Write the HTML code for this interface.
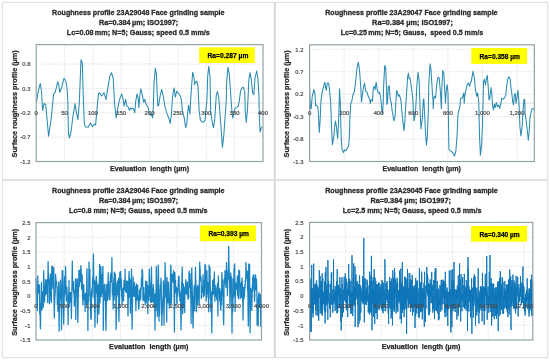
<!DOCTYPE html><html><head><meta charset="utf-8"><title>Roughness profiles</title>
<style>html,body{margin:0;padding:0;background:#fff;overflow:hidden}svg{display:block}text{font-family:"Liberation Sans", sans-serif;white-space:pre}</style></head><body>
<svg width="550" height="360" viewBox="0 0 550 360">
<rect width="550" height="360" fill="#fff"/>
<rect x="2.4" y="2.5" width="545.4" height="355" fill="none" stroke="#e2e2e2" stroke-width="1.2"/>
<line x1="274.8" y1="2" x2="274.8" y2="358" stroke="#d8d8d8" stroke-width="2"/>
<line x1="2" y1="179.9" x2="548" y2="179.9" stroke="#dcdcdc" stroke-width="1.8"/>
<path d="M36.2 137.1H263.0M36.2 112.8H263.0M36.2 88.4H263.0M36.2 64.1H263.0M64.6 44.6V161.5M92.9 44.6V161.5M121.2 44.6V161.5M149.6 44.6V161.5M177.9 44.6V161.5M206.3 44.6V161.5M234.6 44.6V161.5" stroke="#d9d9d9" stroke-width="0.8" stroke-dasharray="1.5 1.5" fill="none"/>
<line x1="36.2" y1="103.0" x2="263.0" y2="103.0" stroke="#d4d4d4" stroke-width="0.8"/>
<polyline points="36.2,102.0 37.0,99.0 38.2,91.3 40.3,83.5 41.5,91.3 42.6,110.5 44.0,103.6 45.7,104.4 48.6,136.3 51.2,118.2 52.9,101.0 53.7,93.8 55.3,92.2 57.7,81.7 58.7,84.7 59.8,92.2 61.5,88.0 64.0,78.3 65.7,80.5 67.0,88.0 67.8,101.0 68.4,132.0 69.3,138.0 71.0,132.0 72.7,118.2 75.0,103.6 76.2,111.3 77.9,119.6 79.3,103.0 81.0,59.7 82.3,63.0 83.5,103.0 84.3,123.4 85.3,126.8 88.2,127.2 90.5,123.0 92.5,126.8 94.2,124.2 95.6,125.0 97.7,101.0 98.7,92.7 100.3,93.8 101.5,96.0 104.0,92.7 106.0,99.7 107.3,91.3 109.8,76.3 111.5,72.7 113.2,78.0 114.5,103.0 116.1,117.8 117.8,107.8 119.4,100.0 121.7,93.9 123.3,100.0 124.1,106.1 125.6,99.4 126.7,105.6 128.3,107.2 129.4,110.6 130.6,107.8 131.7,108.9 132.8,108.3 133.9,109.4 134.8,112.8 135.6,102.2 137.0,93.9 138.1,97.8 138.9,107.8 139.7,96.7 140.8,88.9 142.2,94.4 143.7,102.2 144.8,99.4 146.1,103.9 147.8,106.7 149.4,113.3 150.6,115.6 151.7,114.4 152.6,117.8 153.3,107.8 153.9,85.6 155.3,68.3 156.3,73.0 157.8,106.1 158.6,105.6 160.0,96.7 161.7,89.4 163.3,96.7 165.0,106.7 167.1,113.9 168.8,118.2 170.2,123.4 171.4,114.8 172.2,101.0 173.3,91.3 174.2,88.0 175.3,97.2 176.7,91.3 177.8,92.2 179.5,94.7 180.7,96.7 181.7,103.0 182.2,109.6 183.4,114.8 184.3,118.2 185.7,127.7 186.9,123.4 187.7,112.2 188.6,105.3 189.9,114.0 190.6,101.0 191.7,84.7 192.7,72.2 193.8,76.3 194.7,84.7 195.5,82.2 196.7,81.0 198.0,86.3 199.2,111.3 200.4,119.9 201.8,122.0 203.8,122.0 205.2,119.9 206.1,107.9 206.9,101.0 207.7,76.3 208.8,66.3 210.0,76.3 210.7,111.3 212.1,121.7 213.5,127.7 214.7,119.9 215.5,107.9 216.3,94.7 217.5,91.3 218.8,98.0 219.8,111.3 221.0,126.8 222.4,147.5 223.8,135.4 225.0,118.2 226.2,101.0 226.7,81.3 228.0,67.2 229.3,74.7 230.5,91.3 231.9,111.3 232.8,118.2 234.1,111.3 235.3,107.9 237.1,107.0 238.3,106.2 239.3,101.0 240.5,91.3 242.2,87.7 243.3,87.2 244.7,91.3 245.3,111.3 246.2,122.5 247.4,111.3 248.2,95.0 248.8,80.0 250.0,72.7 251.3,79.7 252.7,93.0 253.8,94.7 255.0,78.0 256.7,71.0 258.0,79.7 258.8,93.0 259.4,118.0 260.1,132.0 261.0,128.5 262.0,127.0 263.0,127.0" fill="none" stroke="#2a8bb2" stroke-width="1.05" stroke-linejoin="round"/>
<rect x="36.2" y="44.6" width="226.8" height="116.9" fill="none" stroke="#93a3a8" stroke-width="1.2"/>
<text x="30.4" y="163.7" font-size="6.2" fill="#4a4a4a" stroke="#4a4a4a" stroke-width="0.2" text-anchor="end" textLength="10.06" lengthAdjust="spacingAndGlyphs">-1.2</text>
<text x="30.4" y="139.3" font-size="6.2" fill="#4a4a4a" stroke="#4a4a4a" stroke-width="0.2" text-anchor="end" textLength="10.06" lengthAdjust="spacingAndGlyphs">-0.7</text>
<text x="30.4" y="115.0" font-size="6.2" fill="#4a4a4a" stroke="#4a4a4a" stroke-width="0.2" text-anchor="end" textLength="10.06" lengthAdjust="spacingAndGlyphs">-0.2</text>
<text x="30.4" y="90.6" font-size="6.2" fill="#4a4a4a" stroke="#4a4a4a" stroke-width="0.2" text-anchor="end" textLength="8.10" lengthAdjust="spacingAndGlyphs">0.3</text>
<text x="30.4" y="66.3" font-size="6.2" fill="#4a4a4a" stroke="#4a4a4a" stroke-width="0.2" text-anchor="end" textLength="8.10" lengthAdjust="spacingAndGlyphs">0.8</text>
<text x="36.2" y="114.6" font-size="6.2" fill="#4a4a4a" stroke="#4a4a4a" stroke-width="0.2" text-anchor="middle" textLength="3.35" lengthAdjust="spacingAndGlyphs">0</text>
<text x="64.6" y="114.6" font-size="6.2" fill="#4a4a4a" stroke="#4a4a4a" stroke-width="0.2" text-anchor="middle" textLength="6.69" lengthAdjust="spacingAndGlyphs">50</text>
<text x="92.9" y="114.6" font-size="6.2" fill="#4a4a4a" stroke="#4a4a4a" stroke-width="0.2" text-anchor="middle" textLength="10.04" lengthAdjust="spacingAndGlyphs">100</text>
<text x="121.2" y="114.6" font-size="6.2" fill="#4a4a4a" stroke="#4a4a4a" stroke-width="0.2" text-anchor="middle" textLength="10.04" lengthAdjust="spacingAndGlyphs">150</text>
<text x="149.6" y="114.6" font-size="6.2" fill="#4a4a4a" stroke="#4a4a4a" stroke-width="0.2" text-anchor="middle" textLength="10.04" lengthAdjust="spacingAndGlyphs">200</text>
<text x="177.9" y="114.6" font-size="6.2" fill="#4a4a4a" stroke="#4a4a4a" stroke-width="0.2" text-anchor="middle" textLength="10.04" lengthAdjust="spacingAndGlyphs">250</text>
<text x="206.3" y="114.6" font-size="6.2" fill="#4a4a4a" stroke="#4a4a4a" stroke-width="0.2" text-anchor="middle" textLength="10.04" lengthAdjust="spacingAndGlyphs">300</text>
<text x="234.6" y="114.6" font-size="6.2" fill="#4a4a4a" stroke="#4a4a4a" stroke-width="0.2" text-anchor="middle" textLength="10.04" lengthAdjust="spacingAndGlyphs">350</text>
<text x="263.0" y="114.6" font-size="6.2" fill="#4a4a4a" stroke="#4a4a4a" stroke-width="0.2" text-anchor="middle" textLength="10.04" lengthAdjust="spacingAndGlyphs">400</text>
<text x="52.1" y="15.0" font-size="7.6" font-weight="bold" fill="#2a2a2a" stroke="#2a2a2a" stroke-width="0.3" textLength="172.4" lengthAdjust="spacingAndGlyphs">Roughness profile 23A29048 Face grinding sample</text>
<text x="99.0" y="25.0" font-size="7.6" font-weight="bold" fill="#2a2a2a" stroke="#2a2a2a" stroke-width="0.3" textLength="79.2" lengthAdjust="spacingAndGlyphs">Ra=0.384 µm; ISO1997;</text>
<text x="66.8" y="35.0" font-size="7.6" font-weight="bold" fill="#2a2a2a" stroke="#2a2a2a" stroke-width="0.3" textLength="143.0" lengthAdjust="spacingAndGlyphs">Lc=0.08 mm; N=5; Gauss; speed 0.5 mm/s</text>
<rect x="199.2" y="47.3" width="55.6" height="15.7" fill="#ffff00"/>
<text x="207.5" y="58.1" font-size="7.0" font-weight="bold" fill="#000" stroke="#000" stroke-width="0.25" textLength="40.9" lengthAdjust="spacingAndGlyphs">Ra=0.287 µm</text>
<text x="110.0" y="171.0" font-size="7.4" font-weight="bold" fill="#2a2a2a" stroke="#2a2a2a" stroke-width="0.25" textLength="79.1" lengthAdjust="spacingAndGlyphs" style="white-space:pre">Evaluation  length (µm)</text>
<text transform="translate(16.7 157.4) rotate(-90)" x="0" y="0" font-size="7.4" font-weight="bold" fill="#2a2a2a" stroke="#2a2a2a" stroke-width="0.25" textLength="107.0" lengthAdjust="spacingAndGlyphs">Surface roughness profile (µm)</text>
<path d="M309.6 139.1H534.3M309.6 116.6H534.3M309.6 94.2H534.3M309.6 71.7H534.3M309.6 49.3H534.3M344.2 44.8V161.5M378.7 44.8V161.5M413.3 44.8V161.5M447.9 44.8V161.5M482.4 44.8V161.5M517.0 44.8V161.5" stroke="#d9d9d9" stroke-width="0.8" stroke-dasharray="1.5 1.5" fill="none"/>
<line x1="309.6" y1="103.2" x2="534.3" y2="103.2" stroke="#d4d4d4" stroke-width="0.8"/>
<polyline points="309.6,88.5 310.0,100.0 310.4,107.8 311.1,108.9 312.2,96.7 313.9,89.4 315.0,94.4 315.6,105.6 316.6,105.3 317.9,107.0 318.4,114.0 319.3,132.4 320.1,121.0 321.0,100.0 322.3,91.3 323.7,86.3 324.8,82.2 326.2,90.5 327.3,83.0 328.7,83.0 329.8,93.0 330.7,103.0 331.5,126.3 332.4,144.7 333.6,138.5 334.7,126.3 335.5,121.0 336.4,126.3 337.6,138.5 338.5,124.5 339.2,103.0 339.5,88.8 340.3,103.0 341.1,135.0 342.0,149.0 343.4,152.5 344.7,149.9 345.9,150.8 347.3,148.2 348.7,145.5 349.4,135.0 349.9,117.5 350.8,103.5 351.7,101.8 352.8,95.5 354.5,91.3 356.2,76.3 357.3,66.3 358.3,62.2 359.5,69.7 360.7,86.3 361.5,102.0 362.3,96.0 363.3,88.0 364.5,83.0 365.7,91.3 367.0,92.2 368.3,96.3 369.7,99.7 370.3,103.5 370.8,100.5 371.7,99.7 372.5,101.3 373.3,88.0 374.2,86.3 375.0,89.7 376.2,82.2 377.2,89.7 378.3,93.0 379.5,92.2 380.8,98.0 381.8,110.0 382.5,114.0 383.2,103.0 383.7,84.7 384.7,65.5 385.7,68.0 386.7,93.0 386.9,104.4 387.5,103.0 388.3,86.3 389.2,86.0 390.3,99.7 391.3,103.0 392.1,110.5 393.9,121.0 395.1,115.8 395.8,103.0 396.7,90.5 397.5,93.0 398.3,96.3 399.2,94.7 400.3,98.0 400.9,100.0 402.1,114.0 403.9,130.6 404.9,121.0 405.6,107.0 406.3,98.0 407.5,78.0 408.3,73.0 409.2,78.8 410.0,78.0 411.3,86.3 412.5,96.3 413.0,103.0 414.0,121.0 415.4,114.0 416.2,100.0 416.7,88.0 418.0,72.2 419.2,81.3 419.8,100.0 420.4,117.0 421.0,128.9 422.4,117.5 423.3,100.0 423.8,98.8 424.8,117.5 425.6,135.0 426.5,145.2 427.4,135.0 428.3,110.5 428.8,84.7 430.0,63.8 431.0,69.7 432.2,89.7 433.0,99.7 433.2,108.8 433.8,98.0 434.7,96.3 435.5,98.0 436.7,84.7 438.0,77.2 439.2,78.0 440.5,93.0 441.4,108.8 441.8,90.0 442.7,70.5 443.8,73.0 444.7,89.7 445.5,103.0 446.3,89.7 447.2,84.7 448.0,93.0 448.4,117.5 448.9,149.0 450.1,150.8 451.9,151.7 453.1,153.4 454.5,156.0 455.9,150.8 457.1,135.0 458.0,114.0 458.9,110.5 460.1,105.3 460.5,98.8 462.2,98.0 463.8,93.0 464.2,103.5 464.7,96.3 466.0,89.7 467.2,84.7 468.3,83.0 469.7,86.3 470.5,82.2 471.3,81.3 473.0,71.3 474.3,78.0 475.5,89.7 476.7,96.3 477.7,93.0 478.8,103.0 479.5,135.0 480.4,155.2 481.7,143.8 482.4,126.3 483.1,100.0 483.5,81.7 484.3,79.2 485.5,85.0 486.5,78.3 487.3,75.3 488.2,86.7 489.0,100.0 489.8,98.3 491.0,87.5 491.8,93.3 492.7,106.7 493.5,110.0 494.3,104.2 495.2,107.5 496.3,102.5 497.3,106.7 498.5,105.0 499.7,108.3 500.7,104.2 501.8,98.3 503.0,99.2 504.3,98.0 505.7,95.8 506.8,85.0 508.0,78.3 508.8,76.7 510.2,79.2 511.0,88.3 511.8,93.3 512.7,101.7 513.5,105.0 514.3,95.8 515.2,93.3 516.0,103.3 516.8,98.3 518.0,90.3 519.0,103.3 519.9,126.3 520.9,135.9 522.2,126.3 523.0,110.5 524.0,99.2 524.7,100.0 525.1,114.0 526.2,121.0 527.4,131.5 528.3,140.3 529.2,131.5 530.0,117.5 531.8,109.0 533.2,108.5 534.3,110.0" fill="none" stroke="#2a8bb2" stroke-width="1.05" stroke-linejoin="round"/>
<rect x="309.6" y="44.8" width="224.7" height="116.7" fill="none" stroke="#93a3a8" stroke-width="1.2"/>
<text x="303.4" y="163.7" font-size="6.2" fill="#4a4a4a" stroke="#4a4a4a" stroke-width="0.2" text-anchor="end" textLength="10.06" lengthAdjust="spacingAndGlyphs">-1.3</text>
<text x="303.4" y="141.3" font-size="6.2" fill="#4a4a4a" stroke="#4a4a4a" stroke-width="0.2" text-anchor="end" textLength="10.06" lengthAdjust="spacingAndGlyphs">-0.8</text>
<text x="303.4" y="118.8" font-size="6.2" fill="#4a4a4a" stroke="#4a4a4a" stroke-width="0.2" text-anchor="end" textLength="10.06" lengthAdjust="spacingAndGlyphs">-0.3</text>
<text x="303.4" y="96.4" font-size="6.2" fill="#4a4a4a" stroke="#4a4a4a" stroke-width="0.2" text-anchor="end" textLength="8.10" lengthAdjust="spacingAndGlyphs">0.2</text>
<text x="303.4" y="73.9" font-size="6.2" fill="#4a4a4a" stroke="#4a4a4a" stroke-width="0.2" text-anchor="end" textLength="8.10" lengthAdjust="spacingAndGlyphs">0.7</text>
<text x="303.4" y="51.5" font-size="6.2" fill="#4a4a4a" stroke="#4a4a4a" stroke-width="0.2" text-anchor="end" textLength="8.10" lengthAdjust="spacingAndGlyphs">1.2</text>
<text x="309.6" y="114.8" font-size="6.2" fill="#4a4a4a" stroke="#4a4a4a" stroke-width="0.2" text-anchor="middle" textLength="3.35" lengthAdjust="spacingAndGlyphs">0</text>
<text x="344.2" y="114.8" font-size="6.2" fill="#4a4a4a" stroke="#4a4a4a" stroke-width="0.2" text-anchor="middle" textLength="10.04" lengthAdjust="spacingAndGlyphs">200</text>
<text x="378.7" y="114.8" font-size="6.2" fill="#4a4a4a" stroke="#4a4a4a" stroke-width="0.2" text-anchor="middle" textLength="10.04" lengthAdjust="spacingAndGlyphs">400</text>
<text x="413.3" y="114.8" font-size="6.2" fill="#4a4a4a" stroke="#4a4a4a" stroke-width="0.2" text-anchor="middle" textLength="10.04" lengthAdjust="spacingAndGlyphs">600</text>
<text x="447.9" y="114.8" font-size="6.2" fill="#4a4a4a" stroke="#4a4a4a" stroke-width="0.2" text-anchor="middle" textLength="10.04" lengthAdjust="spacingAndGlyphs">800</text>
<text x="482.4" y="114.8" font-size="6.2" fill="#4a4a4a" stroke="#4a4a4a" stroke-width="0.2" text-anchor="middle" textLength="15.03" lengthAdjust="spacingAndGlyphs">1,000</text>
<text x="517.0" y="114.8" font-size="6.2" fill="#4a4a4a" stroke="#4a4a4a" stroke-width="0.2" text-anchor="middle" textLength="15.03" lengthAdjust="spacingAndGlyphs">1,200</text>
<text x="325.2" y="15.0" font-size="7.6" font-weight="bold" fill="#2a2a2a" stroke="#2a2a2a" stroke-width="0.3" textLength="172.4" lengthAdjust="spacingAndGlyphs">Roughness profile 23A29047 Face grinding sample</text>
<text x="372.1" y="25.0" font-size="7.6" font-weight="bold" fill="#2a2a2a" stroke="#2a2a2a" stroke-width="0.3" textLength="80.8" lengthAdjust="spacingAndGlyphs">Ra=0.384 µm; ISO1997;</text>
<text x="340.7" y="35.0" font-size="7.6" font-weight="bold" fill="#2a2a2a" stroke="#2a2a2a" stroke-width="0.3" textLength="142.4" lengthAdjust="spacingAndGlyphs">Lc=0.25 mm; N=5; Gauss,  speed 0.5 mm/s</text>
<rect x="471.3" y="48.0" width="55.8" height="15.9" fill="#ffff00"/>
<text x="479.6" y="59.0" font-size="7.0" font-weight="bold" fill="#000" stroke="#000" stroke-width="0.25" textLength="40.4" lengthAdjust="spacingAndGlyphs">Ra=0.358 µm</text>
<text x="382.4" y="171.0" font-size="7.4" font-weight="bold" fill="#2a2a2a" stroke="#2a2a2a" stroke-width="0.25" textLength="78.5" lengthAdjust="spacingAndGlyphs" style="white-space:pre">Evaluation  length (µm)</text>
<text transform="translate(288.8 157.4) rotate(-90)" x="0" y="0" font-size="7.4" font-weight="bold" fill="#2a2a2a" stroke="#2a2a2a" stroke-width="0.25" textLength="107.0" lengthAdjust="spacingAndGlyphs">Surface roughness profile (µm)</text>
<path d="M36.0 325.3H261.5M36.0 310.6H261.5M36.0 296.0H261.5M36.0 281.3H261.5M36.0 266.6H261.5M36.0 251.9H261.5M36.0 237.3H261.5M64.2 222.6V340.0M92.4 222.6V340.0M120.6 222.6V340.0M148.8 222.6V340.0M176.9 222.6V340.0M205.1 222.6V340.0M233.3 222.6V340.0" stroke="#d9d9d9" stroke-width="0.8" stroke-dasharray="1.5 1.5" fill="none"/>
<line x1="36.0" y1="296.0" x2="261.5" y2="296.0" stroke="#d4d4d4" stroke-width="0.8"/>
<polyline points="36.0,278.2 36.2,294.9 36.4,287.5 36.7,303.5 36.9,296.4 37.1,304.6 37.3,310.6 37.5,297.2 37.8,276.0 38.0,286.5 38.2,287.3 38.4,293.1 38.6,284.6 38.9,291.6 39.1,286.4 39.3,292.7 39.5,285.1 39.7,313.7 40.0,310.4 40.2,317.7 40.4,328.8 40.6,320.5 40.8,302.9 41.1,303.5 41.3,292.6 41.5,282.4 41.7,295.2 41.9,309.9 42.2,305.3 42.4,299.6 42.6,292.1 42.8,306.2 43.0,305.4 43.3,307.3 43.5,296.6 43.7,270.6 43.9,282.5 44.1,296.9 44.4,292.2 44.6,301.9 44.8,285.8 45.0,295.8 45.2,289.2 45.5,279.6 45.7,282.1 45.9,294.3 46.1,282.4 46.3,280.3 46.6,287.3 46.8,285.2 47.0,281.3 47.2,293.7 47.4,279.1 47.7,302.5 47.9,276.8 48.1,261.6 48.3,272.5 48.5,278.9 48.8,278.2 49.0,283.9 49.2,280.1 49.4,303.8 49.6,294.1 49.9,300.8 50.1,284.8 50.3,273.9 50.5,282.5 50.7,288.4 51.0,283.7 51.2,291.9 51.4,302.6 51.6,276.9 51.8,266.2 52.1,283.5 52.3,282.5 52.5,266.2 52.7,279.6 52.9,286.4 53.2,288.6 53.4,288.6 53.6,276.8 53.8,267.5 54.0,296.9 54.3,317.9 54.5,306.5 54.7,302.2 54.9,294.9 55.1,295.3 55.4,285.1 55.6,274.3 55.8,278.3 56.0,279.2 56.2,280.9 56.5,282.1 56.7,284.0 56.9,288.2 57.1,286.7 57.3,304.6 57.6,296.5 57.8,307.7 58.0,311.3 58.2,302.2 58.4,292.7 58.7,282.1 58.9,309.6 59.1,331.2 59.3,312.7 59.5,302.1 59.8,291.2 60.0,297.9 60.2,285.7 60.4,280.2 60.6,285.2 60.9,300.3 61.1,298.7 61.3,306.8 61.5,329.8 61.7,310.5 62.0,281.0 62.2,270.8 62.4,279.0 62.6,280.5 62.8,270.3 63.1,284.9 63.3,308.6 63.5,317.1 63.7,324.0 63.9,314.3 64.2,297.6 64.4,293.7 64.6,276.8 64.8,294.1 65.0,290.1 65.3,277.9 65.5,266.5 65.7,270.4 65.9,283.4 66.1,290.7 66.4,301.0 66.6,297.3 66.8,287.0 67.0,289.5 67.2,297.8 67.5,298.3 67.7,298.3 67.9,308.9 68.1,324.6 68.3,305.4 68.6,293.4 68.8,292.3 69.0,280.6 69.2,307.0 69.4,297.0 69.7,292.7 69.9,296.5 70.1,301.8 70.3,298.7 70.5,295.6 70.8,292.3 71.0,301.6 71.2,304.7 71.4,318.7 71.6,305.3 71.9,288.4 72.1,276.2 72.3,261.0 72.5,281.7 72.7,289.8 73.0,284.4 73.2,282.6 73.4,281.7 73.6,292.2 73.8,293.5 74.1,290.5 74.3,306.1 74.5,295.4 74.7,295.7 74.9,290.5 75.2,297.4 75.4,279.1 75.6,291.5 75.8,319.4 76.0,301.8 76.3,289.7 76.5,289.0 76.7,290.0 76.9,278.6 77.1,280.5 77.4,279.1 77.6,300.7 77.8,322.6 78.0,316.1 78.2,299.4 78.5,289.2 78.7,286.6 78.9,270.4 79.1,275.4 79.3,286.2 79.6,275.5 79.8,272.7 80.0,270.2 80.2,279.0 80.4,281.9 80.7,271.6 80.9,265.7 81.1,267.3 81.3,277.3 81.5,286.8 81.8,289.5 82.0,282.9 82.2,274.9 82.4,284.7 82.6,297.4 82.9,305.0 83.1,296.0 83.3,297.7 83.5,296.7 83.7,284.3 84.0,293.7 84.2,299.8 84.4,297.8 84.6,297.3 84.8,299.1 85.1,311.4 85.3,295.9 85.5,293.1 85.7,299.7 85.9,297.7 86.2,294.2 86.4,303.3 86.6,304.1 86.8,274.9 87.0,268.6 87.3,297.3 87.5,302.3 87.7,304.6 87.9,330.4 88.1,307.0 88.4,295.2 88.6,301.0 88.8,278.1 89.0,262.0 89.2,276.9 89.5,284.3 89.7,286.0 89.9,269.3 90.1,295.4 90.3,291.3 90.6,310.4 90.8,318.8 91.0,316.3 91.2,319.3 91.4,304.5 91.7,289.0 91.9,295.5 92.1,296.6 92.3,287.4 92.5,282.6 92.8,276.6 93.0,283.4 93.2,266.4 93.4,254.0 93.6,267.6 93.9,293.8 94.1,296.0 94.3,299.4 94.5,280.5 94.7,311.1 95.0,327.2 95.2,308.6 95.4,284.0 95.6,283.6 95.8,283.2 96.1,279.2 96.3,276.4 96.5,281.1 96.7,293.8 96.9,281.8 97.2,295.2 97.4,323.3 97.6,307.6 97.8,299.4 98.0,292.8 98.3,284.7 98.5,284.7 98.7,295.0 98.9,314.0 99.1,294.2 99.4,277.2 99.6,264.4 99.8,278.3 100.0,302.9 100.2,283.4 100.5,272.9 100.7,266.6 100.9,266.6 101.1,274.9 101.3,296.6 101.6,277.2 101.8,274.8 102.0,277.4 102.2,280.6 102.4,293.4 102.7,274.8 102.9,266.3 103.1,285.7 103.3,330.3 103.5,305.3 103.8,296.0 104.0,285.9 104.2,300.0 104.4,290.9 104.6,286.5 104.9,284.0 105.1,289.5 105.3,292.7 105.5,302.3 105.7,318.4 106.0,330.4 106.2,313.4 106.4,295.3 106.6,290.6 106.8,284.4 107.1,294.3 107.3,295.0 107.5,300.5 107.7,291.1 107.9,287.3 108.2,272.8 108.4,289.6 108.6,285.2 108.8,281.4 109.0,294.6 109.3,299.4 109.5,288.0 109.7,298.5 109.9,299.7 110.1,294.3 110.4,277.8 110.6,274.4 110.8,282.1 111.0,279.0 111.2,272.2 111.5,277.7 111.7,275.6 111.9,257.7 112.1,272.7 112.3,294.5 112.6,283.5 112.8,284.3 113.0,297.2 113.2,308.9 113.4,295.0 113.7,284.8 113.9,277.8 114.1,300.3 114.3,272.2 114.5,295.0 114.8,282.2 115.0,277.5 115.2,273.6 115.4,274.4 115.6,283.6 115.9,304.9 116.1,329.6 116.3,322.9 116.5,287.4 116.7,297.1 117.0,283.6 117.2,294.6 117.4,281.2 117.6,286.4 117.8,290.2 118.1,294.7 118.3,291.4 118.5,278.2 118.7,306.8 118.9,321.6 119.2,308.1 119.4,303.9 119.6,293.3 119.8,272.2 120.0,290.0 120.3,284.8 120.5,285.3 120.7,271.3 120.9,281.5 121.1,281.7 121.4,279.2 121.6,295.9 121.8,293.6 122.0,304.9 122.2,300.4 122.5,290.7 122.7,300.6 122.9,288.2 123.1,291.1 123.3,295.3 123.6,301.0 123.8,287.4 124.0,280.6 124.2,287.0 124.4,289.4 124.7,280.2 124.9,289.3 125.1,269.0 125.3,289.9 125.5,291.1 125.8,287.2 126.0,292.4 126.2,288.1 126.4,291.1 126.6,280.9 126.9,291.2 127.1,288.8 127.3,293.2 127.5,281.4 127.7,295.0 128.0,316.1 128.2,302.0 128.4,297.1 128.6,291.7 128.8,278.7 129.1,271.3 129.3,281.1 129.5,277.7 129.7,297.3 129.9,282.6 130.2,299.0 130.4,313.1 130.6,279.8 130.8,286.3 131.0,303.5 131.3,283.9 131.5,269.0 131.7,284.4 131.9,317.5 132.1,329.2 132.4,309.9 132.6,294.5 132.8,290.2 133.0,294.9 133.2,277.0 133.5,290.8 133.7,282.5 133.9,296.2 134.1,295.0 134.3,282.3 134.6,296.5 134.8,286.2 135.0,287.4 135.2,292.6 135.4,291.1 135.7,303.0 135.9,310.6 136.1,298.0 136.3,283.8 136.5,293.2 136.8,299.9 137.0,295.9 137.2,300.0 137.4,295.1 137.6,284.9 137.9,292.9 138.1,295.8 138.3,297.2 138.5,305.9 138.7,309.1 139.0,307.6 139.2,300.7 139.4,298.7 139.6,290.0 139.8,295.4 140.1,292.9 140.3,300.2 140.5,288.2 140.7,298.9 140.9,289.2 141.2,288.8 141.4,278.1 141.6,286.2 141.8,281.7 142.0,269.1 142.3,279.9 142.5,270.0 142.7,274.7 142.9,296.6 143.1,300.7 143.4,294.5 143.6,298.1 143.8,287.7 144.0,297.9 144.2,300.2 144.5,301.0 144.7,297.5 144.9,296.0 145.1,294.8 145.3,304.8 145.6,281.0 145.8,286.5 146.0,293.7 146.2,303.0 146.4,297.5 146.7,285.8 146.9,281.8 147.1,297.8 147.3,292.2 147.5,285.2 147.8,313.7 148.0,291.2 148.2,290.9 148.4,293.8 148.6,286.2 148.9,300.5 149.1,285.7 149.3,269.1 149.5,275.9 149.7,281.2 150.0,285.8 150.2,296.2 150.4,286.8 150.6,302.4 150.8,291.3 151.1,302.4 151.3,277.1 151.5,267.0 151.7,285.5 151.9,290.9 152.2,301.7 152.4,300.6 152.6,288.3 152.8,301.8 153.0,299.3 153.3,284.4 153.5,295.0 153.7,289.5 153.9,298.7 154.1,307.0 154.4,303.3 154.6,294.7 154.8,311.6 155.0,330.0 155.2,310.7 155.5,293.3 155.7,304.9 155.9,310.5 156.1,285.2 156.3,266.5 156.6,282.6 156.8,290.2 157.0,288.9 157.2,304.2 157.4,316.6 157.7,303.4 157.9,303.1 158.1,273.6 158.3,265.0 158.5,271.1 158.8,302.2 159.0,321.2 159.2,303.0 159.4,302.1 159.6,315.4 159.9,298.4 160.1,289.9 160.3,285.4 160.5,284.9 160.7,286.7 161.0,278.1 161.2,283.3 161.4,299.8 161.6,309.5 161.8,325.5 162.1,314.0 162.3,314.0 162.5,308.2 162.7,303.8 162.9,297.5 163.2,298.5 163.4,280.9 163.6,286.2 163.8,300.2 164.0,325.2 164.3,303.5 164.5,291.1 164.7,289.4 164.9,280.9 165.1,262.6 165.4,273.9 165.6,276.5 165.8,297.5 166.0,291.2 166.2,292.6 166.5,306.2 166.7,322.0 166.9,302.3 167.1,277.7 167.3,289.4 167.6,289.7 167.8,293.9 168.0,302.8 168.2,295.2 168.4,282.4 168.7,290.5 168.9,300.1 169.1,300.3 169.3,308.2 169.5,303.5 169.8,300.2 170.0,305.7 170.2,294.0 170.4,280.5 170.6,271.2 170.9,265.0 171.1,274.1 171.3,303.3 171.5,300.6 171.7,277.3 172.0,281.7 172.2,274.9 172.4,274.5 172.6,275.0 172.8,274.6 173.1,281.7 173.3,272.9 173.5,282.5 173.7,270.7 173.9,274.3 174.2,302.7 174.4,332.0 174.6,304.9 174.8,272.4 175.0,275.9 175.3,293.3 175.5,280.3 175.7,291.5 175.9,291.0 176.1,286.8 176.4,287.3 176.6,288.4 176.8,303.1 177.0,303.7 177.2,296.0 177.5,294.0 177.7,292.6 177.9,288.7 178.1,287.4 178.3,283.2 178.6,276.4 178.8,289.4 179.0,276.1 179.2,284.6 179.4,296.3 179.7,290.0 179.9,300.6 180.1,299.1 180.3,296.3 180.5,292.6 180.8,318.8 181.0,330.0 181.2,317.5 181.4,301.0 181.6,282.2 181.9,285.6 182.1,271.7 182.3,267.1 182.5,294.6 182.7,313.7 183.0,299.5 183.2,283.9 183.4,284.4 183.6,287.4 183.8,298.8 184.1,301.8 184.3,307.9 184.5,301.0 184.7,312.4 184.9,287.5 185.2,293.6 185.4,292.8 185.6,284.1 185.8,279.6 186.0,286.5 186.3,286.4 186.5,294.3 186.7,286.4 186.9,283.1 187.1,289.8 187.4,282.1 187.6,291.6 187.8,292.2 188.0,299.2 188.2,298.8 188.5,293.0 188.7,298.5 188.9,276.1 189.1,271.5 189.3,271.2 189.6,287.4 189.8,276.3 190.0,273.7 190.2,284.7 190.4,280.4 190.7,294.3 190.9,299.3 191.1,323.4 191.3,295.8 191.5,280.7 191.8,267.8 192.0,282.4 192.2,284.8 192.4,298.0 192.6,308.1 192.9,325.3 193.1,328.0 193.3,311.3 193.5,296.7 193.7,303.7 194.0,290.0 194.2,285.7 194.4,302.1 194.6,310.8 194.8,292.1 195.1,286.7 195.3,278.6 195.5,267.4 195.7,278.6 195.9,282.6 196.2,301.8 196.4,311.8 196.6,299.3 196.8,306.5 197.0,287.0 197.3,300.0 197.5,304.6 197.7,294.3 197.9,284.8 198.1,289.8 198.4,298.9 198.6,290.2 198.8,287.5 199.0,302.4 199.2,303.9 199.5,273.7 199.7,262.1 199.9,267.9 200.1,267.9 200.3,276.2 200.6,276.2 200.8,280.9 201.0,276.8 201.2,281.7 201.4,298.4 201.7,288.5 201.9,286.8 202.1,291.7 202.3,287.9 202.5,292.3 202.8,288.8 203.0,274.7 203.2,287.3 203.4,296.8 203.6,280.7 203.9,293.0 204.1,290.7 204.3,295.1 204.5,290.5 204.7,275.6 205.0,264.5 205.2,273.0 205.4,282.6 205.6,265.0 205.8,281.4 206.1,301.0 206.3,293.6 206.5,296.4 206.7,297.6 206.9,270.7 207.2,286.6 207.4,283.2 207.6,287.7 207.8,282.7 208.0,294.0 208.3,287.8 208.5,303.6 208.7,311.8 208.9,295.7 209.1,265.0 209.4,276.9 209.6,290.2 209.8,283.2 210.0,267.4 210.2,283.7 210.5,299.5 210.7,297.9 210.9,311.5 211.1,294.7 211.3,292.2 211.6,317.9 211.8,333.0 212.0,314.0 212.2,290.9 212.4,291.9 212.7,280.5 212.9,294.8 213.1,282.9 213.3,281.0 213.5,279.8 213.8,278.9 214.0,294.0 214.2,280.4 214.4,271.9 214.6,285.4 214.9,301.3 215.1,296.8 215.3,285.3 215.5,295.1 215.7,295.0 216.0,294.9 216.2,296.1 216.4,289.2 216.6,296.7 216.8,299.8 217.1,286.1 217.3,289.6 217.5,283.5 217.7,300.7 217.9,316.0 218.2,293.4 218.4,275.9 218.6,285.4 218.8,291.5 219.0,293.5 219.3,293.2 219.5,289.6 219.7,300.5 219.9,288.6 220.1,302.1 220.4,300.0 220.6,309.7 220.8,310.1 221.0,291.5 221.2,300.1 221.5,304.6 221.7,287.5 221.9,272.5 222.1,275.2 222.3,284.8 222.6,280.6 222.8,295.1 223.0,290.0 223.2,300.8 223.4,317.6 223.7,324.7 223.9,304.4 224.1,279.1 224.3,284.8 224.5,280.9 224.8,278.3 225.0,270.6 225.2,274.1 225.4,273.2 225.6,278.2 225.9,287.6 226.1,275.5 226.3,272.8 226.5,262.5 226.7,271.3 227.0,270.7 227.2,282.0 227.4,295.2 227.6,286.3 227.8,280.6 228.1,278.8 228.3,274.7 228.5,264.2 228.7,246.3 228.9,261.1 229.2,270.2 229.4,279.5 229.6,280.5 229.8,294.3 230.0,307.8 230.3,297.0 230.5,289.6 230.7,272.9 230.9,277.0 231.1,284.3 231.4,288.9 231.6,276.9 231.8,311.8 232.0,333.0 232.2,311.8 232.5,300.6 232.7,311.9 232.9,301.2 233.1,279.0 233.3,297.6 233.6,288.8 233.8,295.5 234.0,268.6 234.2,271.1 234.4,265.7 234.7,263.8 234.9,290.4 235.1,311.3 235.3,297.6 235.5,290.8 235.8,282.8 236.0,284.2 236.2,283.8 236.4,284.1 236.6,284.0 236.9,289.3 237.1,282.9 237.3,275.8 237.5,295.0 237.7,287.6 238.0,295.9 238.2,293.1 238.4,298.8 238.6,279.1 238.8,270.0 239.1,273.7 239.3,277.1 239.5,270.8 239.7,279.3 239.9,292.2 240.2,298.6 240.4,283.9 240.6,287.1 240.8,291.9 241.0,284.6 241.3,282.6 241.5,297.6 241.7,297.1 241.9,282.1 242.1,278.0 242.4,285.9 242.6,287.4 242.8,303.1 243.0,320.0 243.2,307.8 243.5,287.6 243.7,297.9 243.9,299.2 244.1,287.3 244.3,296.6 244.6,292.4 244.8,287.6 245.0,284.4 245.2,287.3 245.4,279.8 245.7,280.9 245.9,262.4 246.1,266.9 246.3,278.7 246.5,276.4 246.8,275.9 247.0,274.2 247.2,272.1 247.4,271.2 247.6,289.7 247.9,293.0 248.1,312.4 248.3,326.1 248.5,302.5 248.7,264.0 249.0,281.0 249.2,294.4 249.4,275.9 249.6,264.4 249.8,307.7 250.1,333.0 250.3,314.3 250.5,288.4 250.7,290.8 250.9,296.7 251.2,289.5 251.4,301.3 251.6,304.5 251.8,310.4 252.0,301.8 252.3,284.9 252.5,291.8 252.7,279.9 252.9,276.2 253.1,284.8 253.4,281.5 253.6,288.8 253.8,274.3 254.0,277.6 254.2,286.4 254.5,301.4 254.7,297.8 254.9,284.3 255.1,278.2 255.3,280.3 255.6,275.0 255.8,283.7 256.0,289.9 256.2,286.2 256.4,279.1 256.7,285.6 256.9,295.5 257.1,325.0 257.3,310.8 257.5,311.8 257.8,298.5 258.0,309.4 258.2,325.9 258.4,305.2 258.6,293.7 258.9,303.7 259.1,292.6 259.3,304.4 259.5,306.9 259.7,298.8 260.0,302.8 260.2,299.7 260.4,294.6 260.6,315.6 260.8,326.4 261.1,314.6 261.3,307.5 261.5,302.7" fill="none" stroke="#1a84c2" stroke-width="1.25" stroke-linejoin="round"/>
<rect x="36.0" y="222.6" width="225.5" height="117.4" fill="none" stroke="#93a3a8" stroke-width="1.2"/>
<text x="30.4" y="342.2" font-size="6.2" fill="#4a4a4a" stroke="#4a4a4a" stroke-width="0.2" text-anchor="end" textLength="10.06" lengthAdjust="spacingAndGlyphs">-1.5</text>
<text x="30.4" y="327.5" font-size="6.2" fill="#4a4a4a" stroke="#4a4a4a" stroke-width="0.2" text-anchor="end" textLength="5.20" lengthAdjust="spacingAndGlyphs">-1</text>
<text x="30.4" y="312.8" font-size="6.2" fill="#4a4a4a" stroke="#4a4a4a" stroke-width="0.2" text-anchor="end" textLength="10.06" lengthAdjust="spacingAndGlyphs">-0.5</text>
<text x="30.4" y="298.2" font-size="6.2" fill="#4a4a4a" stroke="#4a4a4a" stroke-width="0.2" text-anchor="end" textLength="3.24" lengthAdjust="spacingAndGlyphs">0</text>
<text x="30.4" y="283.5" font-size="6.2" fill="#4a4a4a" stroke="#4a4a4a" stroke-width="0.2" text-anchor="end" textLength="8.10" lengthAdjust="spacingAndGlyphs">0.5</text>
<text x="30.4" y="268.8" font-size="6.2" fill="#4a4a4a" stroke="#4a4a4a" stroke-width="0.2" text-anchor="end" textLength="3.24" lengthAdjust="spacingAndGlyphs">1</text>
<text x="30.4" y="254.1" font-size="6.2" fill="#4a4a4a" stroke="#4a4a4a" stroke-width="0.2" text-anchor="end" textLength="8.10" lengthAdjust="spacingAndGlyphs">1.5</text>
<text x="30.4" y="239.5" font-size="6.2" fill="#4a4a4a" stroke="#4a4a4a" stroke-width="0.2" text-anchor="end" textLength="3.24" lengthAdjust="spacingAndGlyphs">2</text>
<text x="30.4" y="224.8" font-size="6.2" fill="#4a4a4a" stroke="#4a4a4a" stroke-width="0.2" text-anchor="end" textLength="8.10" lengthAdjust="spacingAndGlyphs">2.5</text>
<text x="36.0" y="307.6" font-size="6.2" fill="#4a4a4a" stroke="#4a4a4a" stroke-width="0.2" text-anchor="middle" textLength="3.35" lengthAdjust="spacingAndGlyphs">0</text>
<text x="64.2" y="307.6" font-size="6.2" fill="#4a4a4a" stroke="#4a4a4a" stroke-width="0.2" text-anchor="middle" textLength="10.04" lengthAdjust="spacingAndGlyphs">500</text>
<text x="92.4" y="307.6" font-size="6.2" fill="#4a4a4a" stroke="#4a4a4a" stroke-width="0.2" text-anchor="middle" textLength="15.03" lengthAdjust="spacingAndGlyphs">1,000</text>
<text x="120.6" y="307.6" font-size="6.2" fill="#4a4a4a" stroke="#4a4a4a" stroke-width="0.2" text-anchor="middle" textLength="15.03" lengthAdjust="spacingAndGlyphs">1,500</text>
<text x="148.8" y="307.6" font-size="6.2" fill="#4a4a4a" stroke="#4a4a4a" stroke-width="0.2" text-anchor="middle" textLength="15.03" lengthAdjust="spacingAndGlyphs">2,000</text>
<text x="176.9" y="307.6" font-size="6.2" fill="#4a4a4a" stroke="#4a4a4a" stroke-width="0.2" text-anchor="middle" textLength="15.03" lengthAdjust="spacingAndGlyphs">2,500</text>
<text x="205.1" y="307.6" font-size="6.2" fill="#4a4a4a" stroke="#4a4a4a" stroke-width="0.2" text-anchor="middle" textLength="15.03" lengthAdjust="spacingAndGlyphs">3,000</text>
<text x="233.3" y="307.6" font-size="6.2" fill="#4a4a4a" stroke="#4a4a4a" stroke-width="0.2" text-anchor="middle" textLength="15.03" lengthAdjust="spacingAndGlyphs">3,500</text>
<text x="261.5" y="307.6" font-size="6.2" fill="#4a4a4a" stroke="#4a4a4a" stroke-width="0.2" text-anchor="middle" textLength="15.03" lengthAdjust="spacingAndGlyphs">4,000</text>
<text x="52.1" y="193.0" font-size="7.6" font-weight="bold" fill="#2a2a2a" stroke="#2a2a2a" stroke-width="0.3" textLength="172.4" lengthAdjust="spacingAndGlyphs">Roughness profile 23A29046 Face grinding sample</text>
<text x="99.0" y="203.0" font-size="7.6" font-weight="bold" fill="#2a2a2a" stroke="#2a2a2a" stroke-width="0.3" textLength="79.2" lengthAdjust="spacingAndGlyphs">Ra=0.384 µm; ISO1997;</text>
<text x="69.0" y="213.0" font-size="7.6" font-weight="bold" fill="#2a2a2a" stroke="#2a2a2a" stroke-width="0.3" textLength="138.6" lengthAdjust="spacingAndGlyphs">Lc=0.8 mm; N=5; Gauss, speed 0.5 mm/s</text>
<rect x="200.1" y="225.5" width="55.8" height="15.7" fill="#ffff00"/>
<text x="208.5" y="236.3" font-size="7.0" font-weight="bold" fill="#000" stroke="#000" stroke-width="0.25" textLength="40.5" lengthAdjust="spacingAndGlyphs">Ra=0.393 µm</text>
<text x="109.1" y="349.4" font-size="7.4" font-weight="bold" fill="#2a2a2a" stroke="#2a2a2a" stroke-width="0.25" textLength="79.4" lengthAdjust="spacingAndGlyphs" style="white-space:pre">Evaluation  length (µm)</text>
<text transform="translate(16.7 335.8) rotate(-90)" x="0" y="0" font-size="7.4" font-weight="bold" fill="#2a2a2a" stroke="#2a2a2a" stroke-width="0.25" textLength="107.0" lengthAdjust="spacingAndGlyphs">Surface roughness profile (µm)</text>
<path d="M309.6 325.3H532.8M309.6 310.6H532.8M309.6 295.9H532.8M309.6 281.2H532.8M309.6 266.5H532.8M309.6 251.8H532.8M309.6 237.1H532.8M345.3 222.4V340.0M381.0 222.4V340.0M416.7 222.4V340.0M452.4 222.4V340.0M488.2 222.4V340.0M523.9 222.4V340.0" stroke="#d9d9d9" stroke-width="0.8" stroke-dasharray="1.5 1.5" fill="none"/>
<line x1="309.6" y1="295.9" x2="532.8" y2="295.9" stroke="#d4d4d4" stroke-width="0.8"/>
<polyline points="309.6,295.5 309.7,280.7 309.9,282.2 310.0,301.6 310.2,299.2 310.3,301.8 310.4,332.0 310.6,296.5 310.7,287.5 310.9,316.6 311.0,278.4 311.1,297.0 311.3,331.7 311.4,297.4 311.6,300.1 311.7,264.9 311.8,286.7 312.0,298.2 312.1,297.6 312.3,288.2 312.4,305.6 312.5,312.8 312.7,291.5 312.8,303.4 313.0,317.4 313.1,305.0 313.2,301.1 313.4,309.3 313.5,312.6 313.7,263.6 313.8,285.9 313.9,298.5 314.1,304.2 314.2,291.6 314.4,287.9 314.5,299.3 314.6,289.8 314.8,284.2 314.9,298.2 315.1,305.0 315.2,292.0 315.3,293.1 315.5,283.6 315.6,310.3 315.8,303.3 315.9,305.3 316.0,315.3 316.2,294.5 316.3,290.0 316.5,304.2 316.6,280.4 316.7,286.7 316.9,288.9 317.0,291.4 317.2,285.2 317.3,310.8 317.4,289.0 317.6,289.2 317.7,315.7 317.9,292.0 318.0,298.7 318.1,287.2 318.3,300.8 318.4,296.1 318.6,292.1 318.7,320.7 318.8,289.2 319.0,297.1 319.1,290.4 319.3,270.1 319.4,283.7 319.5,289.1 319.7,297.9 319.8,288.8 320.0,281.8 320.1,275.9 320.2,313.5 320.4,286.0 320.5,290.7 320.7,297.0 320.8,307.2 320.9,281.8 321.1,310.0 321.2,289.6 321.4,281.3 321.5,313.8 321.6,299.3 321.8,310.6 321.9,293.2 322.1,279.0 322.2,273.3 322.3,315.8 322.5,302.3 322.6,288.0 322.8,278.2 322.9,291.2 323.0,304.3 323.2,292.6 323.3,296.1 323.5,298.2 323.6,304.1 323.7,291.6 323.9,292.5 324.0,296.9 324.2,298.4 324.3,310.3 324.4,301.3 324.6,282.4 324.7,298.0 324.9,312.0 325.0,281.0 325.1,323.3 325.3,272.3 325.4,295.2 325.6,301.1 325.7,312.1 325.8,281.1 326.0,267.1 326.1,305.1 326.3,303.1 326.4,289.2 326.5,305.2 326.7,298.9 326.8,299.8 327.0,293.8 327.1,283.6 327.2,295.7 327.4,285.6 327.5,300.6 327.7,292.2 327.8,319.8 327.9,260.0 328.1,287.0 328.2,302.5 328.4,289.4 328.5,289.8 328.6,281.1 328.8,286.8 328.9,284.5 329.1,297.1 329.2,303.7 329.3,304.1 329.5,301.4 329.6,308.5 329.8,302.0 329.9,296.9 330.0,293.1 330.2,299.7 330.3,317.4 330.5,296.7 330.6,293.4 330.7,283.8 330.9,289.4 331.0,303.1 331.2,304.0 331.3,273.4 331.4,287.4 331.6,275.4 331.7,272.1 331.9,305.1 332.0,291.6 332.1,290.8 332.3,289.6 332.4,289.8 332.6,293.6 332.7,294.0 332.8,312.7 333.0,297.8 333.1,304.3 333.3,294.5 333.4,301.1 333.5,259.4 333.7,286.7 333.8,292.4 334.0,292.4 334.1,294.9 334.2,300.9 334.4,297.7 334.5,301.4 334.7,291.6 334.8,295.7 334.9,289.4 335.1,310.8 335.2,286.0 335.4,304.4 335.5,304.1 335.6,298.1 335.8,302.2 335.9,292.6 336.1,302.3 336.2,307.9 336.3,305.4 336.5,281.2 336.6,295.4 336.8,309.0 336.9,295.8 337.0,313.3 337.2,269.2 337.3,313.0 337.5,290.5 337.6,289.8 337.7,312.1 337.9,292.5 338.0,284.7 338.2,290.7 338.3,293.0 338.4,285.3 338.6,294.1 338.7,292.1 338.9,297.3 339.0,288.8 339.1,306.4 339.3,287.0 339.4,301.6 339.6,308.1 339.7,291.8 339.8,277.0 340.0,285.1 340.1,301.7 340.3,288.1 340.4,301.0 340.5,297.3 340.7,294.9 340.8,321.8 341.0,293.8 341.1,307.4 341.2,330.3 341.4,312.4 341.5,312.9 341.7,306.5 341.8,286.7 341.9,277.3 342.1,296.2 342.2,283.7 342.4,298.9 342.5,317.3 342.6,294.2 342.8,290.9 342.9,300.7 343.1,292.5 343.2,289.5 343.3,305.6 343.5,312.4 343.6,298.4 343.8,298.3 343.9,299.8 344.0,284.9 344.2,276.6 344.3,300.6 344.5,288.1 344.6,285.4 344.7,287.9 344.9,284.2 345.0,300.3 345.2,287.6 345.3,273.2 345.4,286.9 345.6,302.8 345.7,289.1 345.9,281.8 346.0,291.8 346.1,302.2 346.3,278.6 346.4,309.9 346.6,290.3 346.7,296.1 346.8,309.3 347.0,282.3 347.1,292.0 347.3,309.0 347.4,289.2 347.5,300.7 347.7,317.2 347.8,303.6 348.0,293.0 348.1,288.8 348.2,294.0 348.4,295.4 348.5,290.6 348.7,264.2 348.8,282.7 348.9,294.2 349.1,292.6 349.2,289.8 349.4,307.7 349.5,303.8 349.6,278.8 349.8,292.1 349.9,299.1 350.1,292.1 350.2,301.3 350.3,292.8 350.5,303.4 350.6,292.8 350.8,313.6 350.9,281.0 351.0,301.6 351.2,313.6 351.3,298.4 351.5,300.1 351.6,294.2 351.7,308.7 351.9,291.5 352.0,255.3 352.2,310.2 352.3,292.1 352.4,299.4 352.6,293.7 352.7,316.2 352.9,308.8 353.0,290.8 353.1,296.3 353.3,277.6 353.4,303.8 353.6,293.9 353.7,263.3 353.8,304.5 354.0,306.0 354.1,296.3 354.3,296.4 354.4,286.5 354.5,294.4 354.7,304.4 354.8,293.5 355.0,266.4 355.1,281.7 355.2,327.0 355.4,297.5 355.5,305.7 355.7,288.9 355.8,297.8 355.9,274.3 356.1,285.5 356.2,285.9 356.4,293.8 356.5,296.4 356.6,292.1 356.8,281.4 356.9,289.9 357.1,299.8 357.2,281.6 357.3,293.7 357.5,296.8 357.6,304.8 357.8,302.2 357.9,303.0 358.0,327.2 358.2,284.5 358.3,289.6 358.5,298.3 358.6,284.2 358.7,291.0 358.9,291.7 359.0,323.6 359.2,298.5 359.3,289.9 359.4,277.9 359.6,275.3 359.7,279.9 359.9,308.9 360.0,320.5 360.1,289.5 360.3,295.6 360.4,285.1 360.6,297.3 360.7,293.4 360.8,312.7 361.0,290.9 361.1,300.9 361.3,292.0 361.4,290.8 361.5,297.2 361.7,292.4 361.8,296.1 362.0,287.4 362.1,290.3 362.2,302.0 362.4,302.5 362.5,276.4 362.7,297.0 362.8,284.8 362.9,291.5 363.1,302.2 363.2,304.3 363.4,294.6 363.5,293.0 363.6,289.0 363.8,238.0 363.9,302.6 364.1,297.0 364.2,278.0 364.3,322.3 364.5,291.0 364.6,301.9 364.8,291.1 364.9,301.4 365.0,291.8 365.2,278.4 365.3,291.9 365.5,291.0 365.6,291.7 365.8,304.3 365.9,289.8 366.0,298.2 366.2,305.0 366.3,296.3 366.5,298.4 366.6,287.5 366.7,296.4 366.9,301.8 367.0,279.6 367.2,284.8 367.3,281.7 367.4,289.1 367.6,297.1 367.7,300.6 367.9,299.0 368.0,285.3 368.1,294.6 368.3,312.5 368.4,296.3 368.6,311.7 368.7,294.0 368.8,309.4 369.0,310.0 369.1,294.6 369.3,296.8 369.4,314.5 369.5,287.5 369.7,271.7 369.8,312.5 370.0,275.5 370.1,303.6 370.2,301.4 370.4,297.9 370.5,312.1 370.7,281.4 370.8,290.4 370.9,304.3 371.1,299.0 371.2,312.9 371.4,255.8 371.5,285.4 371.6,315.1 371.8,300.8 371.9,329.6 372.1,330.3 372.2,280.8 372.3,301.0 372.5,304.2 372.6,290.9 372.8,300.0 372.9,299.4 373.0,283.8 373.2,277.0 373.3,292.9 373.5,298.1 373.6,289.5 373.7,317.0 373.9,296.1 374.0,307.8 374.2,269.2 374.3,287.8 374.4,294.3 374.6,298.1 374.7,324.0 374.9,287.9 375.0,277.7 375.1,304.1 375.3,288.3 375.4,287.8 375.6,313.2 375.7,285.4 375.8,280.7 376.0,293.3 376.1,296.6 376.3,287.1 376.4,313.1 376.5,294.9 376.7,284.1 376.8,309.8 377.0,284.8 377.1,300.6 377.2,319.2 377.4,297.1 377.5,306.8 377.7,292.3 377.8,309.0 377.9,284.1 378.1,304.2 378.2,291.9 378.4,302.5 378.5,299.5 378.6,282.6 378.8,293.5 378.9,300.3 379.1,309.9 379.2,282.9 379.3,287.7 379.5,299.6 379.6,293.2 379.8,307.4 379.9,307.3 380.0,305.1 380.2,291.9 380.3,292.6 380.5,304.2 380.6,287.6 380.7,287.1 380.9,294.0 381.0,284.3 381.2,299.1 381.3,297.2 381.4,290.6 381.6,296.3 381.7,287.0 381.9,309.9 382.0,279.9 382.1,304.6 382.3,297.7 382.4,311.3 382.6,289.2 382.7,281.6 382.8,283.9 383.0,286.6 383.1,313.3 383.3,304.7 383.4,301.1 383.5,306.4 383.7,283.3 383.8,293.8 384.0,296.2 384.1,290.4 384.2,306.6 384.4,306.1 384.5,305.8 384.7,290.3 384.8,292.1 384.9,259.2 385.1,283.8 385.2,311.1 385.4,302.2 385.5,294.2 385.6,311.0 385.8,301.9 385.9,284.6 386.1,283.6 386.2,283.8 386.3,295.4 386.5,298.3 386.6,283.8 386.8,300.1 386.9,292.1 387.0,281.1 387.2,300.0 387.3,302.7 387.5,296.0 387.6,289.2 387.7,290.5 387.9,294.2 388.0,289.7 388.2,313.8 388.3,305.5 388.4,294.1 388.6,324.0 388.7,310.9 388.9,309.4 389.0,306.2 389.1,297.9 389.3,307.3 389.4,293.3 389.6,276.9 389.7,297.6 389.8,281.6 390.0,292.7 390.1,308.4 390.3,298.8 390.4,306.9 390.5,287.3 390.7,308.8 390.8,281.1 391.0,289.4 391.1,318.5 391.2,287.1 391.4,278.5 391.5,304.7 391.7,284.9 391.8,316.0 391.9,293.1 392.1,314.5 392.2,290.5 392.4,315.9 392.5,325.4 392.6,291.5 392.8,270.3 392.9,302.6 393.1,286.6 393.2,294.7 393.3,299.5 393.5,289.0 393.6,277.5 393.8,309.7 393.9,289.6 394.0,292.0 394.2,311.8 394.3,277.8 394.5,268.1 394.6,306.6 394.7,271.9 394.9,295.3 395.0,297.7 395.2,279.1 395.3,293.4 395.4,292.3 395.6,278.9 395.7,281.5 395.9,285.9 396.0,311.6 396.1,313.5 396.3,283.3 396.4,306.3 396.6,294.2 396.7,307.9 396.8,298.0 397.0,310.2 397.1,277.7 397.3,307.3 397.4,297.3 397.5,298.0 397.7,282.4 397.8,311.8 398.0,296.3 398.1,298.2 398.2,290.0 398.4,290.6 398.5,301.1 398.7,293.2 398.8,300.1 398.9,290.7 399.1,297.0 399.2,303.2 399.4,296.2 399.5,291.8 399.6,270.5 399.8,301.4 399.9,292.5 400.1,279.5 400.2,319.2 400.3,315.4 400.5,309.2 400.6,297.2 400.8,268.6 400.9,291.5 401.0,282.4 401.2,298.4 401.3,323.5 401.5,321.8 401.6,284.5 401.7,293.8 401.9,310.4 402.0,283.4 402.2,313.1 402.3,262.1 402.4,279.7 402.6,304.5 402.7,308.3 402.9,286.5 403.0,308.2 403.1,286.3 403.3,309.3 403.4,286.9 403.6,294.8 403.7,300.7 403.8,305.9 404.0,293.2 404.1,317.1 404.3,299.0 404.4,300.3 404.5,288.3 404.7,309.9 404.8,276.7 405.0,299.4 405.1,308.6 405.2,280.4 405.4,277.3 405.5,298.0 405.7,305.9 405.8,295.7 405.9,303.6 406.1,299.4 406.2,278.5 406.4,291.5 406.5,294.3 406.6,333.9 406.8,296.6 406.9,286.5 407.1,286.1 407.2,300.0 407.3,294.7 407.5,268.9 407.6,291.2 407.8,298.0 407.9,273.0 408.0,295.8 408.2,308.2 408.3,288.4 408.5,306.0 408.6,301.5 408.7,292.2 408.9,297.3 409.0,304.4 409.2,302.1 409.3,302.5 409.4,282.8 409.6,304.0 409.7,302.3 409.9,273.1 410.0,302.1 410.1,279.2 410.3,281.2 410.4,297.6 410.6,311.8 410.7,290.8 410.8,288.4 411.0,285.1 411.1,295.1 411.3,282.4 411.4,280.3 411.5,307.7 411.7,279.9 411.8,293.9 412.0,302.2 412.1,299.5 412.2,274.9 412.4,284.9 412.5,315.9 412.7,295.0 412.8,297.5 412.9,297.9 413.1,301.6 413.2,312.2 413.4,286.3 413.5,306.4 413.6,300.0 413.8,302.6 413.9,304.0 414.1,287.6 414.2,291.6 414.3,303.4 414.5,306.5 414.6,301.2 414.8,285.1 414.9,294.5 415.0,328.0 415.2,299.6 415.3,298.8 415.5,293.5 415.6,316.5 415.7,277.9 415.9,304.7 416.0,302.3 416.2,280.9 416.3,293.4 416.4,295.4 416.6,302.4 416.7,313.4 416.9,293.8 417.0,282.5 417.1,306.0 417.3,280.6 417.4,308.5 417.6,304.1 417.7,290.2 417.8,295.9 418.0,288.2 418.1,304.2 418.3,307.4 418.4,316.8 418.5,309.4 418.7,307.9 418.8,311.9 419.0,292.4 419.1,303.3 419.2,318.2 419.4,268.1 419.5,305.2 419.7,310.0 419.8,282.0 419.9,282.9 420.1,308.8 420.2,312.4 420.4,307.1 420.5,283.3 420.6,299.4 420.8,305.0 420.9,296.2 421.1,282.4 421.2,311.5 421.3,300.2 421.5,311.4 421.6,271.6 421.8,275.5 421.9,285.3 422.0,297.4 422.2,288.5 422.3,319.4 422.5,292.8 422.6,310.9 422.7,310.7 422.9,303.8 423.0,299.8 423.2,289.5 423.3,288.1 423.4,293.0 423.6,306.5 423.7,288.3 423.9,297.3 424.0,282.7 424.1,306.2 424.3,326.8 424.4,301.2 424.6,271.8 424.7,290.7 424.8,298.1 425.0,286.0 425.1,290.3 425.3,290.7 425.4,321.8 425.5,295.0 425.7,293.6 425.8,303.1 426.0,308.4 426.1,294.3 426.2,285.1 426.4,288.7 426.5,290.4 426.7,290.3 426.8,267.0 426.9,293.0 427.1,284.2 427.2,274.0 427.4,295.3 427.5,292.9 427.6,284.2 427.8,277.0 427.9,292.4 428.1,291.8 428.2,294.9 428.3,309.4 428.5,283.4 428.6,298.7 428.8,315.1 428.9,297.5 429.0,315.2 429.2,307.1 429.3,295.7 429.5,306.2 429.6,283.9 429.7,312.3 429.9,292.9 430.0,289.6 430.2,279.5 430.3,285.5 430.4,293.2 430.6,294.9 430.7,296.5 430.9,283.1 431.0,303.2 431.1,290.0 431.3,296.8 431.4,293.1 431.6,298.7 431.7,271.9 431.8,303.1 432.0,292.9 432.1,292.7 432.3,289.0 432.4,290.7 432.5,291.0 432.7,284.8 432.8,312.6 433.0,295.7 433.1,309.6 433.2,293.2 433.4,309.0 433.5,306.5 433.7,296.4 433.8,280.1 433.9,289.3 434.1,292.4 434.2,280.1 434.4,306.3 434.5,319.2 434.6,300.5 434.8,298.9 434.9,281.9 435.1,271.8 435.2,310.6 435.3,268.0 435.5,278.2 435.6,286.4 435.8,291.6 435.9,268.6 436.0,294.8 436.2,301.0 436.3,294.2 436.5,311.1 436.6,290.5 436.7,297.0 436.9,292.0 437.0,291.7 437.2,307.6 437.3,281.0 437.4,307.1 437.6,285.8 437.7,313.6 437.9,291.6 438.0,304.9 438.1,295.3 438.3,303.0 438.4,320.2 438.6,308.2 438.7,295.0 438.8,288.7 439.0,312.2 439.1,319.5 439.3,305.5 439.4,298.1 439.5,302.8 439.7,304.8 439.8,286.2 440.0,284.9 440.1,287.4 440.2,306.2 440.4,294.9 440.5,297.9 440.7,311.7 440.8,285.9 440.9,294.7 441.1,301.2 441.2,279.9 441.4,287.2 441.5,286.1 441.6,282.3 441.8,287.7 441.9,309.9 442.1,300.1 442.2,284.5 442.3,304.3 442.5,295.3 442.6,291.3 442.8,279.6 442.9,281.2 443.0,285.7 443.2,297.8 443.3,285.5 443.5,289.8 443.6,297.6 443.7,280.6 443.9,290.2 444.0,304.2 444.2,281.6 444.3,298.6 444.4,289.1 444.6,312.8 444.7,296.0 444.9,306.4 445.0,306.7 445.1,317.2 445.3,271.8 445.4,297.5 445.6,293.1 445.7,283.4 445.8,297.1 446.0,290.0 446.1,311.0 446.3,293.6 446.4,300.4 446.5,290.2 446.7,293.8 446.8,311.3 447.0,316.5 447.1,307.2 447.2,287.6 447.4,291.0 447.5,291.3 447.7,318.4 447.8,325.9 447.9,302.8 448.1,299.5 448.2,302.6 448.4,291.9 448.5,297.7 448.6,309.1 448.8,305.7 448.9,294.2 449.1,295.0 449.2,296.7 449.3,270.5 449.5,298.8 449.6,294.5 449.8,307.0 449.9,299.9 450.0,290.0 450.2,289.5 450.3,297.6 450.5,291.5 450.6,295.3 450.7,316.9 450.9,332.5 451.0,270.0 451.2,286.6 451.3,296.5 451.4,315.4 451.6,310.2 451.7,280.7 451.9,327.1 452.0,299.5 452.1,286.2 452.3,294.3 452.4,287.5 452.6,297.4 452.7,269.1 452.8,307.4 453.0,311.1 453.1,292.8 453.3,279.9 453.4,296.5 453.5,284.2 453.7,301.8 453.8,309.2 454.0,262.0 454.1,278.3 454.2,278.7 454.4,300.8 454.5,308.8 454.7,309.0 454.8,298.4 454.9,289.4 455.1,290.2 455.2,312.0 455.4,293.7 455.5,295.7 455.6,294.9 455.8,296.2 455.9,298.2 456.1,289.3 456.2,294.5 456.3,293.4 456.5,303.6 456.6,291.5 456.8,297.3 456.9,319.6 457.0,290.5 457.2,298.9 457.3,285.5 457.5,297.7 457.6,297.0 457.7,293.5 457.9,296.0 458.0,300.9 458.2,316.0 458.3,275.3 458.4,313.6 458.6,299.7 458.7,288.6 458.9,291.6 459.0,289.6 459.1,287.3 459.3,281.8 459.4,292.6 459.6,263.4 459.7,307.2 459.8,293.4 460.0,299.9 460.1,302.0 460.3,292.7 460.4,279.6 460.5,303.8 460.7,321.4 460.8,287.8 461.0,289.8 461.1,274.0 461.2,284.4 461.4,293.3 461.5,299.6 461.7,293.5 461.8,297.9 461.9,311.2 462.1,295.8 462.2,297.9 462.4,298.5 462.5,300.7 462.6,277.0 462.8,288.1 462.9,285.4 463.1,302.7 463.2,307.3 463.3,299.1 463.5,293.2 463.6,299.8 463.8,298.0 463.9,285.1 464.0,292.6 464.2,306.9 464.3,273.9 464.5,303.3 464.6,293.9 464.7,309.0 464.9,297.9 465.0,288.1 465.2,295.6 465.3,306.1 465.4,302.8 465.6,294.5 465.7,290.5 465.9,286.5 466.0,297.5 466.1,310.6 466.3,280.0 466.4,292.6 466.6,291.4 466.7,292.5 466.8,307.5 467.0,299.5 467.1,293.0 467.3,284.3 467.4,295.2 467.5,330.8 467.7,298.6 467.8,292.0 468.0,257.0 468.1,287.9 468.2,268.0 468.4,280.0 468.5,280.8 468.7,285.3 468.8,311.4 468.9,286.4 469.1,289.2 469.2,301.8 469.4,289.3 469.5,291.2 469.6,301.1 469.8,297.3 469.9,298.8 470.1,293.3 470.2,300.7 470.3,289.8 470.5,317.4 470.6,299.1 470.8,314.8 470.9,301.3 471.0,290.1 471.2,295.7 471.3,297.1 471.5,295.1 471.6,278.3 471.7,308.3 471.9,333.9 472.0,312.8 472.2,301.1 472.3,294.1 472.4,305.4 472.6,293.6 472.7,287.7 472.9,309.3 473.0,296.8 473.1,300.1 473.3,317.6 473.4,298.0 473.6,304.8 473.7,280.9 473.8,305.7 474.0,276.9 474.1,301.9 474.3,274.2 474.4,289.9 474.5,290.8 474.7,286.9 474.8,285.8 475.0,280.2 475.1,276.5 475.2,299.8 475.4,309.9 475.5,325.8 475.7,300.2 475.8,287.4 475.9,291.7 476.1,294.6 476.2,299.8 476.4,303.1 476.5,299.1 476.6,291.5 476.8,315.6 476.9,287.7 477.1,312.2 477.2,297.7 477.4,303.0 477.5,300.0 477.6,307.6 477.8,308.8 477.9,298.5 478.1,308.1 478.2,268.4 478.3,300.6 478.5,303.3 478.6,302.1 478.8,308.0 478.9,323.5 479.0,298.8 479.2,292.5 479.3,312.8 479.5,295.9 479.6,309.5 479.7,296.4 479.9,292.0 480.0,290.5 480.2,291.1 480.3,303.9 480.4,286.1 480.6,301.0 480.7,292.1 480.9,288.1 481.0,299.4 481.1,310.4 481.3,289.1 481.4,308.5 481.6,306.0 481.7,308.3 481.8,286.6 482.0,297.8 482.1,321.2 482.3,287.8 482.4,272.8 482.5,275.9 482.7,302.4 482.8,295.1 483.0,290.3 483.1,286.0 483.2,295.6 483.4,308.3 483.5,287.6 483.7,289.1 483.8,310.9 483.9,300.1 484.1,293.0 484.2,324.6 484.4,290.2 484.5,287.1 484.6,290.0 484.8,297.3 484.9,311.1 485.1,289.1 485.2,280.3 485.3,273.9 485.5,296.4 485.6,296.4 485.8,279.8 485.9,279.9 486.0,292.2 486.2,288.1 486.3,304.6 486.5,289.5 486.6,305.3 486.7,256.0 486.9,297.4 487.0,301.3 487.2,319.7 487.3,305.3 487.4,292.3 487.6,296.7 487.7,300.5 487.9,291.3 488.0,288.4 488.1,286.6 488.3,305.1 488.4,295.8 488.6,299.8 488.7,305.9 488.8,312.8 489.0,297.2 489.1,305.9 489.3,272.0 489.4,297.2 489.5,298.6 489.7,300.5 489.8,275.1 490.0,255.0 490.1,297.9 490.2,304.7 490.4,297.5 490.5,296.5 490.7,283.8 490.8,311.9 490.9,296.3 491.1,278.0 491.2,301.8 491.4,298.1 491.5,306.0 491.6,325.4 491.8,297.3 491.9,282.9 492.1,301.3 492.2,316.8 492.3,293.1 492.5,295.2 492.6,284.9 492.8,285.9 492.9,299.1 493.0,291.6 493.2,316.2 493.3,283.6 493.5,294.0 493.6,283.9 493.7,284.2 493.9,299.3 494.0,297.8 494.2,305.9 494.3,319.2 494.4,297.6 494.6,294.4 494.7,308.2 494.9,288.1 495.0,295.0 495.1,291.0 495.3,304.7 495.4,315.8 495.6,287.4 495.7,289.3 495.8,297.3 496.0,300.8 496.1,299.2 496.3,297.6 496.4,301.8 496.5,318.6 496.7,287.3 496.8,312.8 497.0,299.8 497.1,299.5 497.2,293.2 497.4,314.1 497.5,282.6 497.7,288.7 497.8,287.5 497.9,281.9 498.1,305.0 498.2,331.1 498.4,292.3 498.5,281.3 498.6,283.0 498.8,302.0 498.9,297.0 499.1,292.8 499.2,316.2 499.3,303.4 499.5,303.1 499.6,278.2 499.8,303.3 499.9,278.4 500.0,295.8 500.2,314.7 500.3,271.1 500.5,306.8 500.6,289.0 500.7,276.8 500.9,301.9 501.0,309.7 501.2,284.3 501.3,295.2 501.4,309.6 501.6,308.0 501.7,300.3 501.9,285.1 502.0,299.1 502.1,288.6 502.3,277.4 502.4,281.7 502.6,279.8 502.7,282.1 502.8,313.9 503.0,282.2 503.1,292.2 503.3,297.3 503.4,308.0 503.5,313.7 503.7,308.3 503.8,296.1 504.0,309.1 504.1,305.0 504.2,302.8 504.4,288.4 504.5,299.2 504.7,297.5 504.8,281.1 504.9,299.5 505.1,289.2 505.2,307.7 505.4,292.2 505.5,294.6 505.6,293.9 505.8,301.1 505.9,307.4 506.1,299.3 506.2,301.1 506.3,284.3 506.5,285.7 506.6,309.4 506.8,288.9 506.9,301.3 507.0,290.8 507.2,301.3 507.3,312.4 507.5,284.5 507.6,290.8 507.7,309.6 507.9,317.1 508.0,301.9 508.2,309.1 508.3,300.0 508.4,289.0 508.6,279.5 508.7,299.9 508.9,280.5 509.0,282.9 509.1,300.8 509.3,314.6 509.4,286.3 509.6,289.1 509.7,269.5 509.8,279.9 510.0,287.1 510.1,277.0 510.3,307.6 510.4,293.7 510.5,298.9 510.7,276.4 510.8,289.5 511.0,330.1 511.1,280.5 511.2,306.0 511.4,287.1 511.5,301.2 511.7,293.1 511.8,288.7 511.9,293.6 512.1,306.4 512.2,280.1 512.4,291.3 512.5,295.9 512.6,287.8 512.8,301.7 512.9,274.6 513.1,293.2 513.2,291.6 513.3,291.8 513.5,305.9 513.6,308.8 513.8,293.3 513.9,291.8 514.0,280.6 514.2,290.6 514.3,307.9 514.5,289.8 514.6,286.4 514.7,284.5 514.9,291.9 515.0,309.4 515.2,282.7 515.3,303.9 515.4,289.3 515.6,313.3 515.7,287.1 515.9,304.5 516.0,283.6 516.1,275.9 516.3,282.6 516.4,308.8 516.6,306.3 516.7,305.4 516.8,288.3 517.0,291.8 517.1,293.9 517.3,292.2 517.4,289.2 517.5,288.4 517.7,276.8 517.8,296.3 518.0,293.4 518.1,316.5 518.2,310.6 518.4,303.5 518.5,309.0 518.7,293.3 518.8,284.1 518.9,300.7 519.1,301.2 519.2,301.5 519.4,294.3 519.5,301.9 519.6,291.0 519.8,292.5 519.9,292.0 520.1,287.3 520.2,295.5 520.3,294.2 520.5,276.2 520.6,296.4 520.8,286.9 520.9,295.3 521.0,301.0 521.2,301.0 521.3,305.1 521.5,295.8 521.6,302.7 521.7,300.6 521.9,282.3 522.0,297.4 522.2,283.2 522.3,292.9 522.4,286.3 522.6,302.8 522.7,294.3 522.9,266.4 523.0,286.7 523.1,284.7 523.3,293.3 523.4,286.3 523.6,309.0 523.7,305.5 523.8,291.2 524.0,286.8 524.1,300.6 524.3,298.1 524.4,300.0 524.5,298.1 524.7,309.4 524.8,312.0 525.0,296.9 525.1,315.5 525.2,307.0 525.4,303.4 525.5,307.8 525.7,293.4 525.8,301.1 525.9,297.0 526.1,307.4 526.2,304.4 526.4,290.4 526.5,292.1 526.6,301.3 526.8,292.1 526.9,294.1 527.1,294.4 527.2,278.3 527.3,300.7 527.5,291.5 527.6,291.5 527.8,298.8 527.9,309.3 528.0,288.5 528.2,293.3 528.3,295.7 528.5,296.0 528.6,296.0 528.7,306.3 528.9,293.0 529.0,316.5 529.2,296.6 529.3,313.1 529.4,300.3 529.6,288.4 529.7,299.3 529.9,301.8 530.0,290.7 530.1,299.4 530.3,301.0 530.4,300.9 530.6,279.5 530.7,289.0 530.8,291.1 531.0,309.8 531.1,289.6 531.3,311.0 531.4,291.2 531.5,309.0 531.7,274.7 531.8,315.4 532.0,282.9 532.1,287.6 532.2,316.4 532.4,299.3 532.5,280.4 532.7,283.9 532.8,315.1" fill="none" stroke="#0f76b8" stroke-width="0.95" stroke-linejoin="round"/>
<rect x="309.6" y="222.4" width="223.2" height="117.6" fill="none" stroke="#93a3a8" stroke-width="1.2"/>
<text x="303.4" y="342.2" font-size="6.2" fill="#4a4a4a" stroke="#4a4a4a" stroke-width="0.2" text-anchor="end" textLength="10.06" lengthAdjust="spacingAndGlyphs">-1.5</text>
<text x="303.4" y="327.5" font-size="6.2" fill="#4a4a4a" stroke="#4a4a4a" stroke-width="0.2" text-anchor="end" textLength="5.20" lengthAdjust="spacingAndGlyphs">-1</text>
<text x="303.4" y="312.8" font-size="6.2" fill="#4a4a4a" stroke="#4a4a4a" stroke-width="0.2" text-anchor="end" textLength="10.06" lengthAdjust="spacingAndGlyphs">-0.5</text>
<text x="303.4" y="298.1" font-size="6.2" fill="#4a4a4a" stroke="#4a4a4a" stroke-width="0.2" text-anchor="end" textLength="3.24" lengthAdjust="spacingAndGlyphs">0</text>
<text x="303.4" y="283.4" font-size="6.2" fill="#4a4a4a" stroke="#4a4a4a" stroke-width="0.2" text-anchor="end" textLength="8.10" lengthAdjust="spacingAndGlyphs">0.5</text>
<text x="303.4" y="268.7" font-size="6.2" fill="#4a4a4a" stroke="#4a4a4a" stroke-width="0.2" text-anchor="end" textLength="3.24" lengthAdjust="spacingAndGlyphs">1</text>
<text x="303.4" y="254.0" font-size="6.2" fill="#4a4a4a" stroke="#4a4a4a" stroke-width="0.2" text-anchor="end" textLength="8.10" lengthAdjust="spacingAndGlyphs">1.5</text>
<text x="303.4" y="239.3" font-size="6.2" fill="#4a4a4a" stroke="#4a4a4a" stroke-width="0.2" text-anchor="end" textLength="3.24" lengthAdjust="spacingAndGlyphs">2</text>
<text x="303.4" y="224.6" font-size="6.2" fill="#4a4a4a" stroke="#4a4a4a" stroke-width="0.2" text-anchor="end" textLength="8.10" lengthAdjust="spacingAndGlyphs">2.5</text>
<text x="309.6" y="307.5" font-size="6.2" fill="#4a4a4a" stroke="#4a4a4a" stroke-width="0.2" text-anchor="middle" textLength="3.35" lengthAdjust="spacingAndGlyphs">0</text>
<text x="345.3" y="307.5" font-size="6.2" fill="#4a4a4a" stroke="#4a4a4a" stroke-width="0.2" text-anchor="middle" textLength="15.03" lengthAdjust="spacingAndGlyphs">2,000</text>
<text x="381.0" y="307.5" font-size="6.2" fill="#4a4a4a" stroke="#4a4a4a" stroke-width="0.2" text-anchor="middle" textLength="15.03" lengthAdjust="spacingAndGlyphs">4,000</text>
<text x="416.7" y="307.5" font-size="6.2" fill="#4a4a4a" stroke="#4a4a4a" stroke-width="0.2" text-anchor="middle" textLength="15.03" lengthAdjust="spacingAndGlyphs">6,000</text>
<text x="452.4" y="307.5" font-size="6.2" fill="#4a4a4a" stroke="#4a4a4a" stroke-width="0.2" text-anchor="middle" textLength="15.03" lengthAdjust="spacingAndGlyphs">8,000</text>
<text x="488.2" y="307.5" font-size="6.2" fill="#4a4a4a" stroke="#4a4a4a" stroke-width="0.2" text-anchor="middle" textLength="18.38" lengthAdjust="spacingAndGlyphs">10,000</text>
<text x="523.9" y="307.5" font-size="6.2" fill="#4a4a4a" stroke="#4a4a4a" stroke-width="0.2" text-anchor="middle" textLength="18.38" lengthAdjust="spacingAndGlyphs">12,000</text>
<text x="325.2" y="193.0" font-size="7.6" font-weight="bold" fill="#2a2a2a" stroke="#2a2a2a" stroke-width="0.3" textLength="172.6" lengthAdjust="spacingAndGlyphs">Roughness profile 23A29045 Face grinding sample</text>
<text x="370.4" y="203.0" font-size="7.6" font-weight="bold" fill="#2a2a2a" stroke="#2a2a2a" stroke-width="0.3" textLength="80.5" lengthAdjust="spacingAndGlyphs">Ra=0.384 µm; ISO1997;</text>
<text x="342.7" y="213.0" font-size="7.6" font-weight="bold" fill="#2a2a2a" stroke="#2a2a2a" stroke-width="0.3" textLength="138.7" lengthAdjust="spacingAndGlyphs">Lc=2.5 mm; N=5; Gauss, speed 0.5 mm/s</text>
<rect x="471.1" y="226.0" width="56.0" height="15.7" fill="#ffff00"/>
<text x="479.6" y="236.8" font-size="7.0" font-weight="bold" fill="#000" stroke="#000" stroke-width="0.25" textLength="40.1" lengthAdjust="spacingAndGlyphs">Ra=0.340 µm</text>
<text x="381.8" y="349.4" font-size="7.4" font-weight="bold" fill="#2a2a2a" stroke="#2a2a2a" stroke-width="0.25" textLength="78.6" lengthAdjust="spacingAndGlyphs" style="white-space:pre">Evaluation  length (µm)</text>
<text transform="translate(288.8 335.8) rotate(-90)" x="0" y="0" font-size="7.4" font-weight="bold" fill="#2a2a2a" stroke="#2a2a2a" stroke-width="0.25" textLength="107.0" lengthAdjust="spacingAndGlyphs">Surface roughness profile (µm)</text>
</svg></body></html>
